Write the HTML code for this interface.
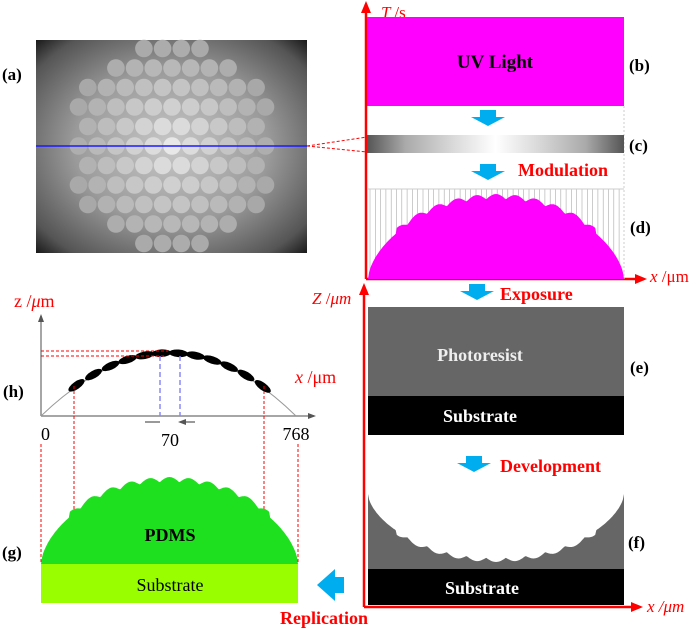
<!DOCTYPE html>
<html><head><meta charset="utf-8"><style>
body{margin:0;background:#fff}
svg{display:block}
text{font-family:"Liberation Serif",serif}
.b{font-weight:bold}
</style></head><body>
<svg id="s" width="700" height="629" viewBox="0 0 700 629" xmlns="http://www.w3.org/2000/svg">
<defs>
<radialGradient id="bg" cx="0.5" cy="0.5" r="0.72">
<stop offset="0" stop-color="#c8c8c8"/><stop offset="0.5" stop-color="#9a9a9a"/><stop offset="0.85" stop-color="#555"/><stop offset="1" stop-color="#111"/>
</radialGradient>
<linearGradient id="bar" x1="0" x2="1">
<stop offset="0" stop-color="#555"/><stop offset="0.15" stop-color="#aaa"/><stop offset="0.35" stop-color="#ddd"/><stop offset="0.5" stop-color="#fff"/><stop offset="0.65" stop-color="#ddd"/><stop offset="0.85" stop-color="#aaa"/><stop offset="1" stop-color="#555"/>
</linearGradient>
<marker id="ar" markerUnits="userSpaceOnUse" markerWidth="12" markerHeight="12" refX="9" refY="6" orient="auto"><path d="M0,1 L12,6 L0,11z" fill="#f00"/></marker>
<marker id="ak" markerUnits="userSpaceOnUse" markerWidth="8" markerHeight="8" refX="6" refY="4" orient="auto"><path d="M0,1 L8,4 L0,7z" fill="#555"/></marker>
</defs>
<!-- (a) -->
<text x="2" y="80" class="b" font-size="17">(a)</text>
<rect x="36" y="40" width="271" height="213" fill="url(#bg)"/>
<g id="circ"></g>
<line x1="36" y1="146" x2="307" y2="146" stroke="#1a1aff" stroke-width="1.5"/>
<path d="M307,146 L367,137 M307,146 L367,152" stroke="#f00" stroke-dasharray="3,2" fill="none"/>

<!-- top right axis -->
<line x1="366" y1="279" x2="366" y2="4" stroke="#f00" stroke-width="2.5" marker-end="url(#ar)"/>
<line x1="366" y1="279" x2="644" y2="279" stroke="#f00" stroke-width="2.5" marker-end="url(#ar)"/>
<text x="381" y="18" fill="#f00" font-size="17" font-style="italic">T <tspan font-style="normal">/s</tspan></text>
<text x="650" y="282" fill="#f00" font-size="17"><tspan font-style="italic">x</tspan> /μm</text>
<rect x="367" y="17" width="257" height="89" fill="#f0f"/>
<text x="495" y="68" text-anchor="middle" class="b" font-size="19">UV Light</text>
<text x="629" y="71" class="b" font-size="17">(b)</text>
<line x1="624" y1="106" x2="624" y2="279" stroke="#ccc" stroke-dasharray="2,2"/>
<rect x="367" y="135" width="257" height="18" fill="url(#bar)"/>
<text x="629" y="151" class="b" font-size="17">(c)</text>
<text x="518" y="176" fill="#f00" class="b" font-size="18">Modulation</text>
<g id="grid"></g>
<path id="dome" fill="#f0f"/>
<text x="630" y="233" class="b" font-size="17">(d)</text>

<!-- arrows -->
<g fill="#00aeef">
<path d="M480,110h16v7h9l-17,9l-17,-9h9z"/>
<path d="M480,164h16v7h9l-17,9l-17,-9h9z"/>
<path d="M469,284h16v7h9l-17,9l-17,-9h9z"/>
<path d="M466,456h16v7h9l-17,9l-17,-9h9z"/>
<path d="M344,577v16h-9v8l-18,-16l18,-16v8z"/>
</g>

<!-- lower right axis -->
<line x1="364" y1="607" x2="364" y2="286" stroke="#f00" stroke-width="2.5" marker-end="url(#ar)"/>
<line x1="364" y1="607" x2="640" y2="607" stroke="#f00" stroke-width="2.5" marker-end="url(#ar)"/>
<text x="312" y="304" fill="#f00" font-size="17"><tspan font-style="italic">Z</tspan> /<tspan font-style="italic">μm</tspan></text>
<text x="647" y="612" fill="#f00" font-size="17" font-style="italic">x /μm</text>
<text x="500" y="300" fill="#f00" class="b" font-size="18">Exposure</text>
<rect x="368" y="307" width="256" height="89" fill="#666"/>
<rect x="368" y="396" width="256" height="39" fill="#000"/>
<text x="480" y="361" text-anchor="middle" fill="#eee" class="b" font-size="18">Photoresist</text>
<text x="480" y="422" text-anchor="middle" fill="#fff" class="b" font-size="18">Substrate</text>
<text x="630" y="373" class="b" font-size="17">(e)</text>
<text x="500" y="472" fill="#f00" class="b" font-size="18">Development</text>
<path id="bowl" fill="#666"/>
<rect x="368" y="569" width="256" height="36" fill="#000"/>
<text x="482" y="594" text-anchor="middle" fill="#fff" class="b" font-size="18">Substrate</text>
<text x="628" y="548" class="b" font-size="17">(f)</text>

<!-- (h) -->
<text x="14" y="307" fill="#f00" font-size="18">z /<tspan font-style="italic">μ</tspan>m</text>
<line x1="41" y1="416" x2="41" y2="316" stroke="#888" stroke-width="1.5" marker-end="url(#ak)"/>
<line x1="41" y1="416" x2="314" y2="416" stroke="#888" stroke-width="1.5" marker-end="url(#ak)"/>
<path d="M41,416 Q170,292 296,416" fill="none" stroke="#999" stroke-width="1"/>
<g id="bumps"></g>
<path d="M41,351H168 M41,356H165" stroke="#f00" stroke-dasharray="3,2"/>
<path d="M160,356V416 M180,356V416" stroke="#88f" stroke-width="1.5" stroke-dasharray="5,3"/>
<path d="M145,422H160 M195,422H180" stroke="#333" marker-end="url(#ak)"/>
<text x="295" y="383" fill="#f00" font-size="18"><tspan font-style="italic">x</tspan> /μm</text>
<text x="3" y="397" class="b" font-size="17">(h)</text>
<text x="41" y="440" font-size="18">0</text>
<text x="170" y="446" text-anchor="middle" font-size="18">70</text>
<text x="296" y="440" text-anchor="middle" font-size="18">768</text>
<path d="M41,444V563 M74,386V520 M264,386V520 M298,444V563" stroke="#f00" stroke-dasharray="3,2"/>

<!-- (g) -->
<path id="pdms" fill="#1ee01e"/>
<rect x="41" y="564" width="257" height="39" fill="#9f0"/>
<text x="170" y="541" text-anchor="middle" class="b" font-size="18">PDMS</text>
<text x="170" y="591" text-anchor="middle" font-size="18">Substrate</text>
<text x="2" y="558" class="b" font-size="17">(g)</text>
<text x="280" y="624" fill="#f00" class="b" font-size="18">Replication</text>
</svg>
<script>
var NS="http://www.w3.org/2000/svg";
function el(t,a,p){var e=document.createElementNS(NS,t);for(var k in a)e.setAttribute(k,a[k]);document.getElementById(p).appendChild(e);return e;}
for(var j=-5;j<=5;j++)for(var i=-7;i<=7;i++){
 var x=172+i*18.7+(Math.abs(j)%2?9.3:0), y=146+j*19.5;
 var r=Math.hypot((x-172)/104,(y-146)/106);
 if(r<1){var v=Math.round(232-65*r);el("circle",{cx:x,cy:y,r:8.8,fill:"rgb("+v+","+v+","+v+")"},"circ");}
}
for(var x=370;x<624;x+=5.3)el("line",{x1:x,y1:189,x2:x,y2:278,stroke:"#aaa","stroke-width":0.6},"grid");
el("line",{x1:367,y1:189,x2:624,y2:189,stroke:"#ccc"},"grid");
function prof(u){return Math.pow(Math.max(0,1-u*u),0.6);}
function bumpy(x0,x1,base,h,n,amp){
 var d="M"+x0+","+base;var N=240;
 for(var k=0;k<=N;k++){var t=k/N;var x=x0+(x1-x0)*t;var u=2*t-1;
 var y=base-h*prof(u);
 if(Math.abs(u)<0.78)y-=amp*Math.abs(Math.sin(Math.PI*n*t));
 d+=" L"+x.toFixed(1)+","+y.toFixed(1);}
 return d+" Z";}
document.getElementById("dome").setAttribute("d",bumpy(368,624,279,80,13,5));
document.getElementById("pdms").setAttribute("d",bumpy(41,298,564,82,13,5));
(function(){var d="M368,569 L368,494";var N=240;
 for(var k=0;k<=N;k++){var t=k/N;var x=368+256*t;var u=2*t-1;
 var y=494+64*prof(u);
 if(Math.abs(u)<0.78)y+=4*Math.abs(Math.sin(Math.PI*13*t));
 d+=" L"+x.toFixed(1)+","+y.toFixed(1);}
 document.getElementById("bowl").setAttribute("d",d+" L624,569 Z");})();
for(var k=0;k<12;k++){var t=0.14+k*0.066;var x=(1-t)*(1-t)*41+2*(1-t)*t*170+t*t*296;
 var y=(1-t)*(1-t)*416+2*(1-t)*t*292+t*t*416;
 var dx=2*(1-t)*129+2*t*126, dy=-248*(1-2*t);
 var a=Math.atan2(dy,dx)*180/Math.PI;
 var nx=dy/Math.hypot(dx,dy), ny=-dx/Math.hypot(dx,dy);
 el("ellipse",{cx:x+nx*1,cy:y+ny*1,rx:9.5,ry:3.8,fill:"#000",transform:"rotate("+a+" "+(x+nx)+" "+(y+ny)+")"},"bumps");}
</script>
</body></html>
